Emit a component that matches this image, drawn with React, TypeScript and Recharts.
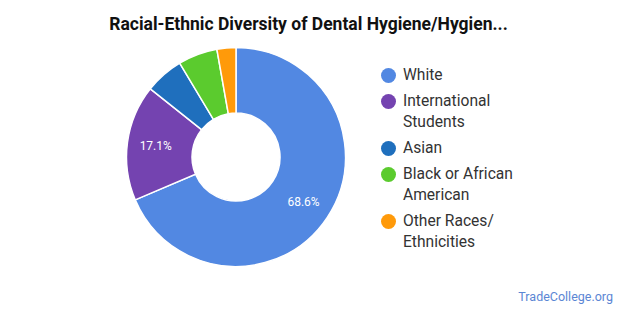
import React from "react";
import { PieChart, Pie, Cell } from "recharts";

const groups = ["White", "International Students", "Asian", "Black or African American", "Other Races/ Ethnicities"];
const legendLines = [["White"], ["International", "Students"], ["Asian"], ["Black or African", "American"], ["Other Races/", "Ethnicities"]];
const shares = [68.6, 17.1, 5.7, 5.8, 2.8];
const colors = ["#5288e2", "#7443b0", "#1f6fbd", "#5bcb2e", "#ff9a0a"];

const data = groups.map((name, i) => ({ name, value: shares[i] }));

const RAD = Math.PI / 180;

function renderLabel(props: any) {
  const { cx, cy, midAngle, value } = props;
  if (value < 10) return null;
  const r = 81;
  const x = cx + r * Math.cos(-midAngle * RAD);
  const y = cy + r * Math.sin(-midAngle * RAD);
  return (
    <text x={x} y={y} fill="#fff" textAnchor="middle" dominantBaseline="central" fontSize={12} fontFamily="Roboto">
      {value.toFixed(1)}%
    </text>
  );
}

function LegendBox() {
  return (
    <div style={{ position: "absolute", left: 381, top: 65, fontFamily: "Roboto", fontSize: 15.6, color: "#333" }}>
      {legendLines.map((lines, i) => (
        <div key={i} style={{ display: "flex", alignItems: "flex-start", marginBottom: 5 }}>
          <span style={{ width: 15, height: 15, borderRadius: "50%", background: colors[i], marginTop: 3, marginRight: 7, flex: "none" }} />
          <div style={{ lineHeight: "21px" }}>
            {lines.map((l, j) => (
              <div key={j}>{l}</div>
            ))}
          </div>
        </div>
      ))}
    </div>
  );
}

export default function App() {
  return (
    <div style={{ position: "absolute", left: 0, top: 0, width: 620, height: 310, background: "#fff" }}>
      <PieChart width={620} height={310} margin={{ top: 0, right: 0, bottom: 0, left: 0 }}>
        <Pie
          data={data}
          dataKey="value"
          nameKey="name"
          cx={236}
          cy={157}
          innerRadius={44}
          outerRadius={109.5}
          startAngle={90}
          endAngle={-270}
          stroke="#fff"
          strokeWidth={1.5}
          label={renderLabel}
          labelLine={false}
          isAnimationActive={false}
        >
          {data.map((d, i) => (
            <Cell key={d.name} fill={colors[i]} />
          ))}
        </Pie>
      </PieChart>
      <div style={{ position: "absolute", left: 0, top: 14, width: 617, textAlign: "center", fontFamily: "Roboto", fontWeight: 700, fontSize: 17.5, color: "#111" }}>
        Racial-Ethnic Diversity of Dental Hygiene/Hygien...
      </div>
      <LegendBox />
      <div style={{ position: "absolute", right: 7, top: 289, fontFamily: "Roboto", fontSize: 12.5, color: "#5b86d4" }}>
        TradeCollege.org
      </div>
    </div>
  );
}
